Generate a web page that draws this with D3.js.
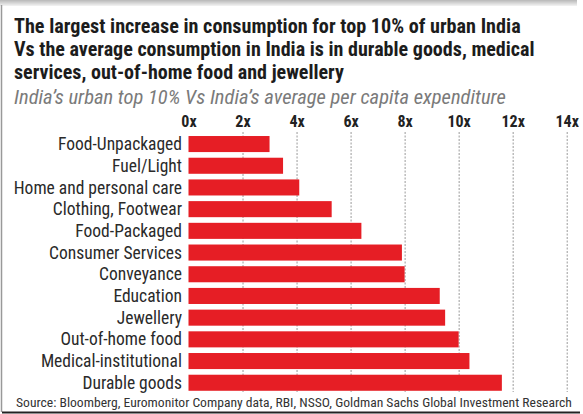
<!DOCTYPE html>
<html>
<head>
<meta charset="utf-8">
<script src="https://cdn.jsdelivr.net/npm/d3@7"></script>
<style>
  html, body { margin: 0; padding: 0; background: #fff; }
  svg { display: block; }
  .cond { font-family: "Liberation Sans Narrow", "Roboto Condensed", "DejaVu Sans Condensed", "Arial Narrow", sans-serif; font-stretch: condensed; }
</style>
</head>
<body>
<script>
const categories = ["Food-Unpackaged", "Fuel/Light", "Home and personal care", "Clothing, Footwear",
  "Food-Packaged", "Consumer Services", "Conveyance", "Education", "Jewellery",
  "Out-of-home food", "Medical-institutional", "Durable goods"];
const values = [3.0, 3.5, 4.1, 5.3, 6.4, 7.9, 8.0, 9.3, 9.5, 10.0, 10.4, 11.6];
const xTicks = [0, 2, 4, 6, 8, 10, 12, 14];
const titleLines = ["The largest increase in consumption for top 10% of urban India",
  "Vs the average consumption in India is in durable goods, medical",
  "services, out-of-home food and jewellery"];
const subtitle = "India\u2019s urban top 10% Vs India\u2019s average per capita expenditure";
const source = "Source: Bloomberg, Euromonitor Company data, RBI, NSSO, Goldman Sachs Global Investment Research";

const W = 583, H = 414;
const svg = d3.select("body").append("svg").attr("width", W).attr("height", H);

// frame: top shadow, left border, bottom border
const grad = svg.append("defs").append("linearGradient").attr("id", "sh").attr("x1", 0).attr("y1", 0).attr("x2", 0).attr("y2", 1);
grad.append("stop").attr("offset", 0).attr("stop-color", "#b8b8b8");
grad.append("stop").attr("offset", 1).attr("stop-color", "#f4f4f4");
svg.append("rect").attr("x", 0).attr("y", 0).attr("width", 577).attr("height", 6).attr("fill", "url(#sh)");
svg.append("line").attr("x1", 1.5).attr("x2", 1.5).attr("y1", 5).attr("y2", 412).attr("stroke", "#999").attr("stroke-width", 1.5);
svg.append("line").attr("x1", 2).attr("x2", 580).attr("y1", 412.5).attr("y2", 412.5).attr("stroke", "#222").attr("stroke-width", 2);

const x = d3.scaleLinear().domain([0, 14]).range([188.5, 566.7]);
const y = d3.scaleBand().domain(categories).range([133.2, 393.6]).paddingInner(0.26).paddingOuter(0.13);

// fit a text's natural width to a target by adjusting font size
function fitWidth(sel, base, target) {
  sel.attr("font-size", base);
  const w = sel.node().getComputedTextLength();
  if (w > 0) sel.attr("font-size", base * target / w);
}

// title
const tl = [33, 56, 79];
const tlLen = [507, 521, 330];
titleLines.forEach((t, i) => {
  const s = svg.append("text").attr("class", "cond").attr("x", 14).attr("y", tl[i])
    .attr("font-weight", "bold").attr("fill", "#1c1c1c").text(t);
  fitWidth(s, 18, tlLen[i]);
});
const st = svg.append("text").attr("class", "cond").attr("x", 14).attr("y", 104)
  .attr("font-style", "italic").attr("fill", "#7a7a7a").text(subtitle);
fitWidth(st, 18, 492);

// gridlines
const grid = svg.append("g").attr("transform", "translate(0,132)")
  .call(d3.axisBottom(x).tickValues(xTicks.filter(d => d > 0)).tickSize(260).tickFormat(""));
grid.select(".domain").remove();
grid.selectAll(".tick line").attr("stroke", "#9a9a9a").attr("stroke-dasharray", "2,1.5");

// x axis labels on top
const ax = svg.append("g").attr("transform", "translate(0,127)")
  .call(d3.axisTop(x).tickValues(xTicks).tickSize(0).tickPadding(0).tickFormat(d => d + "x"));
ax.select(".domain").remove();
ax.selectAll(".tick text").attr("class", "cond").attr("font-size", 16).attr("font-weight", "bold")
  .attr("fill", "#222").attr("dy", 0);

// bars
svg.append("g").selectAll("rect").data(categories).join("rect")
  .attr("x", x(0)).attr("y", d => y(d))
  .attr("width", (d, i) => x(values[i]) - x(0))
  .attr("height", y.bandwidth())
  .attr("fill", "#e61e25");

// category labels
const yl = svg.append("g").attr("transform", "translate(182,0)")
  .call(d3.axisLeft(y).tickSize(0).tickPadding(0));
yl.select(".domain").remove();
yl.selectAll(".tick text").attr("class", "cond").attr("font-size", 17.5).attr("fill", "#2a2a2a")
  .attr("dy", "0.35em");

// source
const src = svg.append("text").attr("class", "cond").attr("x", 16).attr("y", 406.5)
  .attr("fill", "#333").text(source);
fitWidth(src, 14, 556);
</script>
</body>
</html>
